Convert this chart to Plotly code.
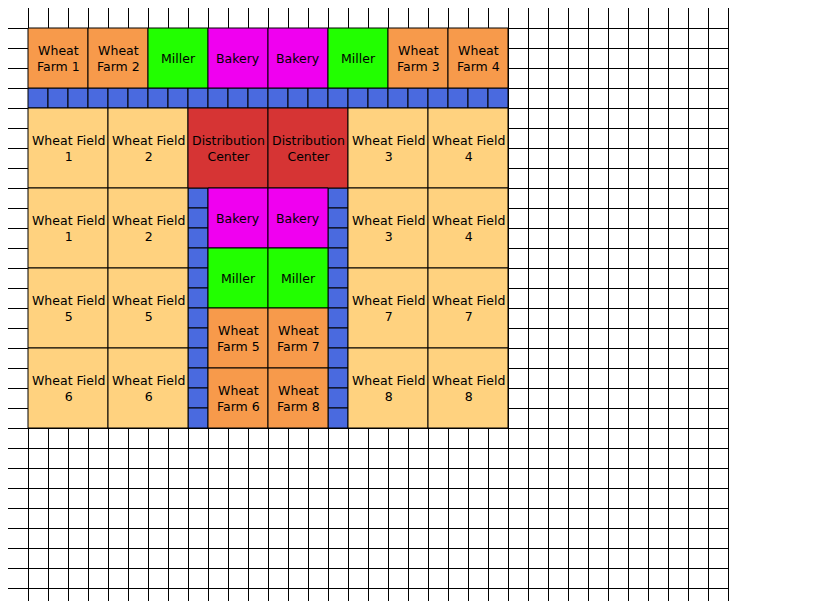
import plotly.graph_objects as go

COLS, ROWS = 36, 30
labels = ["Wheat<br>Farm 1","Wheat<br>Farm 2","Miller","Bakery","Bakery","Miller","Wheat<br>Farm 3","Wheat<br>Farm 4",
          "Wheat Field<br>1","Wheat Field<br>2","Distribution<br>Center","Distribution<br>Center","Wheat Field<br>3","Wheat Field<br>4",
          "Wheat Field<br>1","Wheat Field<br>2","Wheat Field<br>3","Wheat Field<br>4",
          "Wheat Field<br>5","Wheat Field<br>5","Wheat Field<br>7","Wheat Field<br>7",
          "Wheat Field<br>6","Wheat Field<br>6","Wheat Field<br>8","Wheat Field<br>8",
          "Bakery","Bakery","Miller","Miller","Wheat<br>Farm 5","Wheat<br>Farm 7","Wheat<br>Farm 6","Wheat<br>Farm 8"]
kinds = ["farm","farm","miller","bakery","bakery","miller","farm","farm",
         "field","field","dc","dc","field","field",
         "field","field","field","field",
         "field","field","field","field",
         "field","field","field","field",
         "bakery","bakery","miller","miller","farm","farm","farm","farm"]
cols = [1,4,7,10,13,16,19,22, 1,5,9,13,17,21, 1,5,17,21, 1,5,17,21, 1,5,17,21, 10,13,10,13,10,13,10,13]
rows = [1,1,1,1,1,1,1,1, 5,5,5,5,5,5, 9,9,9,9, 13,13,13,13, 17,17,17,17, 9,9,12,12,15,15,18,18]
widths = [3]*8 + [4]*18 + [3]*8
heights = [3]*8 + [4]*18 + [3]*8
road_cols = list(range(1,25)) + [9]*12 + [16]*12
road_rows = [4]*24 + list(range(9,21)) + list(range(9,21))
colors = {"farm":"#F79A4B","miller":"#22FF00","bakery":"#F000F0","field":"#FFD27F","dc":"#D63434","road":"#4A6ADF"}
info = ["Bounding Box<br> 24x20<br> 480 Tiles", "Minimum Area<br> 480 Tiles", "Space efficiency<br> 100%"]
info_rows = [0.45, 3.45, 5.45]

fig = go.Figure()
fig.add_trace(go.Scatter(x=[0, COLS], y=[0, ROWS], mode="markers", marker=dict(opacity=0, size=1),
                         hoverinfo="skip", showlegend=False, cliponaxis=True))
shapes = []
for c, r in zip(road_cols, road_rows):
    shapes.append(dict(type="rect", x0=c, x1=c+1, y0=r, y1=r+1, fillcolor=colors["road"], line=dict(color="black", width=1)))
for lab, k, c, r, w, h in zip(labels, kinds, cols, rows, widths, heights):
    shapes.append(dict(type="rect", x0=c, x1=c+w, y0=r, y1=r+h, fillcolor=colors[k], line=dict(color="black", width=1)))
    fig.add_annotation(x=c+w/2, y=r+h/2, text=lab, showarrow=False, font=dict(family="DejaVu Sans", size=12.5, color="black"))
for t, r in zip(info, info_rows):
    fig.add_annotation(x=36.5, y=r, text=t, showarrow=False, xanchor="left", yanchor="top", align="left",
                       font=dict(family="DejaVu Sans", size=12.5, color="black"))
fig.update_layout(shapes=shapes, width=840, height=601,
                  margin=dict(l=0, r=120, t=0, b=1, pad=0, autoexpand=False),
                  plot_bgcolor="white", paper_bgcolor="white", showlegend=False)
fig.update_xaxes(range=[0, COLS], dtick=1, showgrid=True, gridcolor="black", gridwidth=1, showticklabels=False,
                 ticks="", zeroline=False, showline=True, linecolor="black", mirror=True, fixedrange=True, automargin=False)
fig.update_yaxes(range=[ROWS, 0], dtick=1, showgrid=True, gridcolor="black", gridwidth=1, showticklabels=False,
                 ticks="", zeroline=False, showline=True, linecolor="black", mirror=True, fixedrange=True, automargin=False)
fig.write_html("out.html")
